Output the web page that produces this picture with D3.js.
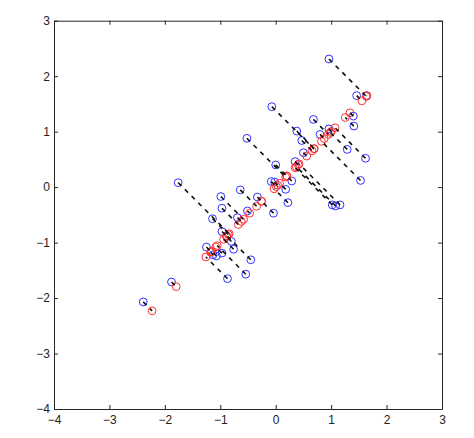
<!DOCTYPE html>
<html><head><meta charset="utf-8">
<script src="https://cdn.jsdelivr.net/npm/d3@7"></script>
<style>body{margin:0;background:#fff}svg text{font-family:"Liberation Sans",Arial,sans-serif;font-size:12px;fill:#222}</style>
</head><body><svg id="c" width="474" height="438"></svg>
<script>
const blueX = [0.96,1.46,1.64,0.68,1.40,1.41,1.29,1.62,1.53,0.96,0.80,0.38,0.47,0.50,0.35,0.29,0.18,0.22,1.02,1.08,1.16,-0.07,-0.52,0.00,-0.08,-0.02,-0.64,-0.99,-0.33,-0.97,-0.51,-0.04,-1.14,-0.69,-1.76,-0.97,-0.80,-0.76,-1.25,-1.13,-1.07,-0.97,-0.45,-0.54,-0.87,-1.88,-2.39];
const blueY = [2.31,1.65,1.65,1.22,1.28,1.10,0.68,0.52,0.12,1.05,0.95,1.01,0.84,0.62,0.46,0.11,-0.04,-0.28,-0.32,-0.34,-0.32,1.45,0.88,0.40,0.10,0.09,-0.05,-0.17,-0.18,-0.38,-0.43,-0.47,-0.57,-0.55,0.08,-0.80,-0.98,-1.12,-1.08,-1.22,-1.24,-1.19,-1.31,-1.57,-1.65,-1.71,-2.07];
const redX = [1.635,1.555,1.645,0.95,1.34,1.255,0.985,1.07,0.825,1.005,0.875,0.695,0.655,0.56,0.405,0.20,0.07,-0.03,0.35,0.37,0.42,0.69,0.18,0.20,0.01,0.035,-0.345,-0.58,-0.255,-0.675,-0.47,-0.255,-0.855,-0.62,-0.84,-0.885,-0.89,-0.94,-1.165,-1.175,-1.155,-1.08,-0.88,-1.055,-1.26,-1.795,-2.23];
const redY = redX.slice();
const xTicks = [-4,-3,-2,-1,0,1,2,3];
const yTicks = [-4,-3,-2,-1,0,1,2,3];

const svg = d3.select("#c");
const L=54, R=442, T=20.7, B=409;
const x = d3.scaleLinear().domain([-4,3]).range([L,R]);
const y = d3.scaleLinear().domain([-4,3]).range([B,T]);
const fmt = d => (d<0?"\u2212"+Math.abs(d):""+d);
const ax = "#262626";

const g = svg.append("g");
g.append("g").attr("transform",`translate(0,${B})`).call(d3.axisBottom(x).tickValues(xTicks).tickFormat(fmt).tickSizeInner(-4).tickSizeOuter(0).tickPadding(6));
g.append("g").attr("transform",`translate(0,${T})`).call(d3.axisTop(x).tickValues(xTicks).tickFormat("").tickSizeInner(-4).tickSizeOuter(0));
g.append("g").attr("transform",`translate(${L},0)`).call(d3.axisLeft(y).tickValues(yTicks).tickFormat(fmt).tickSizeInner(-4).tickSizeOuter(0).tickPadding(4));
g.append("g").attr("transform",`translate(${R},0)`).call(d3.axisRight(y).tickValues(yTicks).tickFormat("").tickSizeInner(-4).tickSizeOuter(0));
g.selectAll(".domain").attr("stroke",ax);
g.selectAll(".tick line").attr("stroke",ax);
g.selectAll(".tick text").attr("fill","#222").style("font-size","12px");

const idx = d3.range(blueX.length);
svg.append("g").selectAll("circle").data(idx).join("circle")
  .attr("cx",i=>x(blueX[i])).attr("cy",i=>y(blueY[i])).attr("r",3.9)
  .attr("fill","none").attr("stroke","#3030ff").attr("stroke-width",1);
svg.append("g").selectAll("circle").data(idx).join("circle")
  .attr("cx",i=>x(redX[i])).attr("cy",i=>y(redY[i])).attr("r",3.9)
  .attr("fill","none").attr("stroke","#ff3030").attr("stroke-width",1);
svg.append("g").selectAll("line").data(idx).join("line")
  .attr("x1",i=>x(blueX[i])).attr("y1",i=>y(blueY[i]))
  .attr("x2",i=>x(redX[i])).attr("y2",i=>y(redY[i]))
  .attr("stroke","#111").attr("stroke-width",1.6).attr("stroke-dasharray","4.5,5");
</script></body></html>
